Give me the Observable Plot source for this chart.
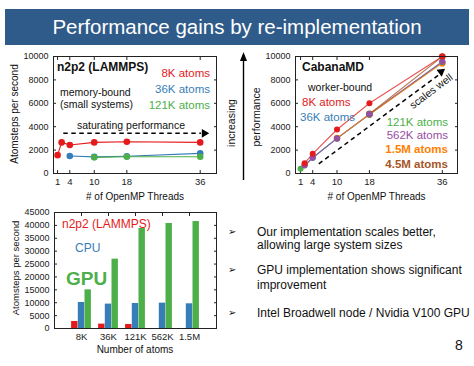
<!DOCTYPE html>
<html><head><meta charset="utf-8">
<script src="https://cdn.jsdelivr.net/npm/d3@7"></script>
<script src="https://cdn.jsdelivr.net/npm/@observablehq/plot@0.6"></script>
<style>
body{margin:0;background:#fff;font-family:"Liberation Sans",Arial,sans-serif;}
#slide{position:relative;width:474px;height:366px;overflow:hidden;background:#fff;}
#banner{position:absolute;left:5px;top:9px;width:464px;height:36px;background:#2f5b8a;color:#fff;font-size:20.5px;line-height:36px;text-align:center;}
svg.chart{position:absolute;overflow:visible;}
</style></head>
<body><div id="slide"><div id="banner">Performance gains by re-implementation</div></div>
<script>
// ---------- data ----------
const threadTicks = [1, 4, 10, 18, 36];
const yTicksThreads = [0, 2000, 4000, 6000, 8000, 10000];

// n2p2 (LAMMPS) on CPU, atomsteps per second vs OpenMP threads
const n2p2Series = ["8K atoms", "36K atoms", "121K atoms"];
const n2p2Colors = ["#e41a1c", "#377eb8", "#4daf4a"];
const n2p2_8K   = [[1,1570],[2,2660],[4,2430],[10,2660],[18,2710],[36,2660]];
const n2p2_36K  = [[4,1490],[10,1420],[18,1470],[36,1720]];
const n2p2_121K = [[10,1380],[18,1430],[36,1430]];

// CabanaMD on CPU
const cabSeries = ["121K atoms", "36K atoms", "562K atoms", "8K atoms", "1.5M atoms", "4.5M atoms"];
const cabColors = ["#4daf4a", "#377eb8", "#984ea3", "#e41a1c", "#ff7f00", "#a65628"];
const cab_121K = [[1,400],[2,720],[4,1360],[10,3000],[18,5050],[36,9500]];
const cab_36K  = [[2,700],[4,1350],[10,3000],[18,5050],[36,9550]];
const cab_562K = [[2,680],[4,1340],[10,3000],[18,5060],[36,9550]];
const cab_8K   = [[2,880],[4,1680],[10,3760],[18,6000],[36,10000]];
const cab_1_5M = [[10,3020],[18,5040],[36,9430]];
const cab_4_5M = [[18,5090],[36,10000]];

// bar chart: atomsteps per second vs system size
const sizes = ["8K", "36K", "121K", "562K", "1.5M"];
const yTicksBars = [0,5000,10000,15000,20000,25000,30000,35000,40000,45000];
const barKinds = ["n2p2 CPU", "CabanaMD CPU", "CabanaMD GPU"];
const barColors = ["#e41a1c", "#377eb8", "#4daf4a"];
const n2p2Cpu    = [2715, 1700, 1550, null, null];
const cabanaCpu  = [10090, 9460, 9700, 9830, 9580];
const cabanaGpu  = [15000, 26900, 38800, 40730, 41500];

// annotation arrows (data coordinates)
const saturArrow = {x1: 2.4, x2: 36.2, y1: 3430, y2: 3430, hx: 37.0, hy: 3430, rot: 90};
const scaleArrow = {x1: 5.5, y1: 830, x2: 35.2, y2: 8450, hx: 35.7, hy: 8700, rot: 53};

// ---------- helpers ----------
const slide = document.getElementById("slide");
const FONT = "Liberation Sans, Arial, sans-serif";
function txt(s, x, y, o = {}) {
  const d = document.createElement("div");
  d.textContent = s;
  const a = o.anchor || "start";
  const tx = a === "start" ? "0" : a === "middle" ? "-50%" : "-100%";
  d.style.cssText = `position:absolute;left:${x}px;top:${y}px;white-space:nowrap;line-height:1;` +
    `font-size:${o.size || 10}px;color:${o.color || "#111"};font-weight:${o.bold ? "bold" : "normal"};` +
    `font-family:${o.family || FONT};transform:translate(${tx},-50%)${o.rotate ? ` rotate(${o.rotate}deg)` : ""};`;
  slide.appendChild(d);
}
function place(svg, left, top) {
  svg.classList.add("chart");
  svg.style.left = left + "px";
  svg.style.top = top + "px";
  slide.appendChild(svg);
}
function toRows(name, arr) { return arr.map(([t, v]) => ({series: name, threads: t, value: v})); }
function frameTicks(xt, yt) {
  const blank = () => "";
  return [
    Plot.axisY(yt, {anchor: "left", tickSize: 3, dx: 3, tickFormat: blank, label: null, stroke: "#222"}),
    Plot.axisY(yt, {anchor: "right", tickSize: 3, dx: -3, tickFormat: blank, label: null, stroke: "#222"}),
    Plot.axisX(xt, {anchor: "bottom", tickSize: 3, dy: -3, tickFormat: blank, label: null, stroke: "#222"}),
    Plot.axisX(xt, {anchor: "top", tickSize: 3, dy: 3, tickFormat: blank, label: null, stroke: "#222"}),
    Plot.axisY(yt, {anchor: "left", tickSize: 0, tickPadding: 5, tickFormat: d3.format("d"), label: null, fontSize: 9, fill: "#222"}),
    Plot.axisX(xt, {anchor: "bottom", tickSize: 0, tickPadding: 5, label: null, fontSize: 9.5, fill: "#222"})
  ];
}
const baseStyle = {fontFamily: FONT, fontSize: "9px", color: "#222", background: "transparent", overflow: "visible"};

// ---------- chart 1: n2p2 ----------
const n2p2Rows = [
  ...toRows("8K atoms", n2p2_8K),
  ...toRows("36K atoms", n2p2_36K),
  ...toRows("121K atoms", n2p2_121K)
];
const c1 = Plot.plot({
  width: 230, height: 160,
  marginLeft: 53, marginRight: 14, marginTop: 11, marginBottom: 32,
  style: baseStyle,
  x: {domain: [0, 40]},
  y: {domain: [0, 10000]},
  color: {domain: n2p2Series, range: n2p2Colors},
  marks: [
    ...frameTicks(threadTicks, yTicksThreads),
    Plot.line(n2p2Rows, {x: "threads", y: "value", z: "series", stroke: "series", strokeWidth: 1.1}),
    Plot.dot(n2p2Rows, {x: "threads", y: "value", fill: "series", r: 3.3}),
    Plot.link([saturArrow], {x1: "x1", y1: "y1", x2: "x2", y2: "y2", stroke: "#000", strokeWidth: 1.5, strokeDasharray: "4.5,3.5"}),
    Plot.dot([saturArrow], {x: "hx", y: "hy", symbol: "triangle", r: 3.2, fill: "#000", rotate: saturArrow.rot}),
    Plot.frame({stroke: "#222", strokeWidth: 1})
  ]
});
place(c1, 0, 45);

// ---------- chart 2: CabanaMD ----------
const cabRows = [
  ...toRows("121K atoms", cab_121K),
  ...toRows("36K atoms", cab_36K),
  ...toRows("562K atoms", cab_562K),
  ...toRows("8K atoms", cab_8K),
  ...toRows("1.5M atoms", cab_1_5M),
  ...toRows("4.5M atoms", cab_4_5M)
];
const bigSeries = new Set(["1.5M atoms", "4.5M atoms"]);
const c2 = Plot.plot({
  width: 244, height: 160,
  marginLeft: 65, marginRight: 17, marginTop: 11, marginBottom: 32,
  style: baseStyle,
  x: {domain: [-0.25, 39.75]},
  y: {domain: [0, 10000]},
  color: {domain: cabSeries, range: cabColors},
  marks: [
    ...frameTicks(threadTicks, yTicksThreads),
    Plot.line(cabRows, {x: "threads", y: "value", z: "series", stroke: "series", strokeWidth: 1.1, strokeOpacity: 0.75}),
    Plot.dot(cabRows, {x: "threads", y: "value", fill: "series", r: d => bigSeries.has(d.series) ? 3.9 : 3.1}),
    Plot.link([scaleArrow], {x1: "x1", y1: "y1", x2: "x2", y2: "y2", stroke: "#000", strokeWidth: 1.5, strokeDasharray: "4.5,3.5"}),
    Plot.dot([scaleArrow], {x: "hx", y: "hy", symbol: "triangle", r: 3.2, fill: "#000", rotate: scaleArrow.rot}),
    Plot.frame({stroke: "#222", strokeWidth: 1})
  ]
});
place(c2, 230, 45);

// ---------- chart 3: bars ----------
const barRows = [];
sizes.forEach((s, i) => {
  if (n2p2Cpu[i] != null) barRows.push({size: s, kind: barKinds[0], value: n2p2Cpu[i]});
  barRows.push({size: s, kind: barKinds[1], value: cabanaCpu[i]});
  barRows.push({size: s, kind: barKinds[2], value: cabanaGpu[i]});
});
const barInset = 7.8;
const c3 = Plot.plot({
  width: 230, height: 166,
  marginLeft: 54, marginRight: 14, marginTop: 12, marginBottom: 38,
  style: baseStyle,
  x: {domain: sizes, paddingInner: 0.2, paddingOuter: 0.6},
  y: {domain: [0, 45000]},
  color: {domain: barKinds, range: barColors},
  marks: [
    ...frameTicks(sizes, yTicksBars),
    ...barKinds.map((k, j) => Plot.barY(barRows.filter(d => d.kind === k), {
      x: "size", y: "value", fill: "kind", dx: (j - 1) * 6.7, insetLeft: barInset, insetRight: barInset
    })),
    Plot.frame({stroke: "#222", strokeWidth: 1})
  ]
});
place(c3, 0, 200);

// ---------- "increasing performance" arrow ----------
const ov = d3.select(slide).append("svg").attr("width", 474).attr("height", 366)
  .style("position", "absolute").style("left", 0).style("top", 0).style("pointer-events", "none");
ov.append("line").attr("x1", 243.5).attr("x2", 243.5).attr("y1", 180).attr("y2", 58).attr("stroke", "#000").attr("stroke-width", 1.4);
ov.append("path").attr("d", "M243.5,52 L240,61 L247,61 Z").attr("fill", "#000");

// ---------- texts ----------
// chart 1
txt("Atomsteps per second", 15, 114, {anchor: "middle", rotate: -90, size: 10});
txt("# of OpenMP Threads", 135, 197, {anchor: "middle", size: 10});
txt("n2p2 (LAMMPS)", 57, 67, {bold: true, size: 12});
txt("memory-bound", 60, 92, {size: 10.5});
txt("(small systems)", 60, 104, {size: 10.5});
txt("8K atoms", 210, 73.5, {anchor: "end", size: 11.5, color: "#e41a1c"});
txt("36K atoms", 210, 89.5, {anchor: "end", size: 11.5, color: "#377eb8"});
txt("121K atoms", 210, 105.5, {anchor: "end", size: 11.5, color: "#4daf4a"});
txt("saturating performance", 131, 124.5, {anchor: "middle", size: 10.5});
// chart 2
txt("increasing", 231, 123, {anchor: "middle", rotate: -90, size: 10.5});
txt("performance", 256, 117, {anchor: "middle", rotate: -90, size: 10.5});
txt("# of OpenMP Threads", 376.5, 197, {anchor: "middle", size: 10});
txt("CabanaMD", 302, 67, {bold: true, size: 12});
txt("worker-bound", 308, 87, {size: 10.5});
txt("8K atoms", 302, 102.5, {size: 11.5, color: "#e41a1c"});
txt("36K atoms", 300, 118, {size: 11.5, color: "#377eb8"});
txt("121K atoms", 448, 122.5, {anchor: "end", size: 11.5, color: "#4daf4a"});
txt("562K atoms", 448, 135.5, {anchor: "end", size: 11.5, color: "#984ea3"});
txt("1.5M atoms", 448, 149.5, {anchor: "end", size: 11.5, bold: true, color: "#ff7f00"});
txt("4.5M atoms", 448, 164.5, {anchor: "end", size: 11.5, bold: true, color: "#a65628"});
txt("scales well", 431, 91, {anchor: "middle", rotate: -37, size: 10.5});
// chart 3
txt("Atomsteps per second", 16, 268, {anchor: "middle", rotate: -90, size: 9.5});
txt("Number of atoms", 135, 350, {anchor: "middle", size: 10});
txt("n2p2 (LAMMPS)", 62, 224, {size: 12, color: "#e41a1c"});
txt("CPU", 75, 248, {size: 12, color: "#377eb8"});
txt("GPU", 66, 278, {size: 19, bold: true, color: "#4daf4a"});
// bullets
const bul = {size: 10, family: "DejaVu Sans"};
txt("➢", 228, 231.5, bul);
txt("Our implementation scales better,", 257, 231.5, {size: 12});
txt("allowing large system sizes", 257, 245, {size: 12});
txt("➢", 228, 270, bul);
txt("GPU implementation shows significant", 257, 270, {size: 12});
txt("improvement", 257, 284.5, {size: 12});
txt("➢", 228, 313, bul);
txt("Intel Broadwell node / Nvidia V100 GPU", 257, 313, {size: 12});
txt("8", 459, 345, {anchor: "middle", size: 14});
</script></body></html>
